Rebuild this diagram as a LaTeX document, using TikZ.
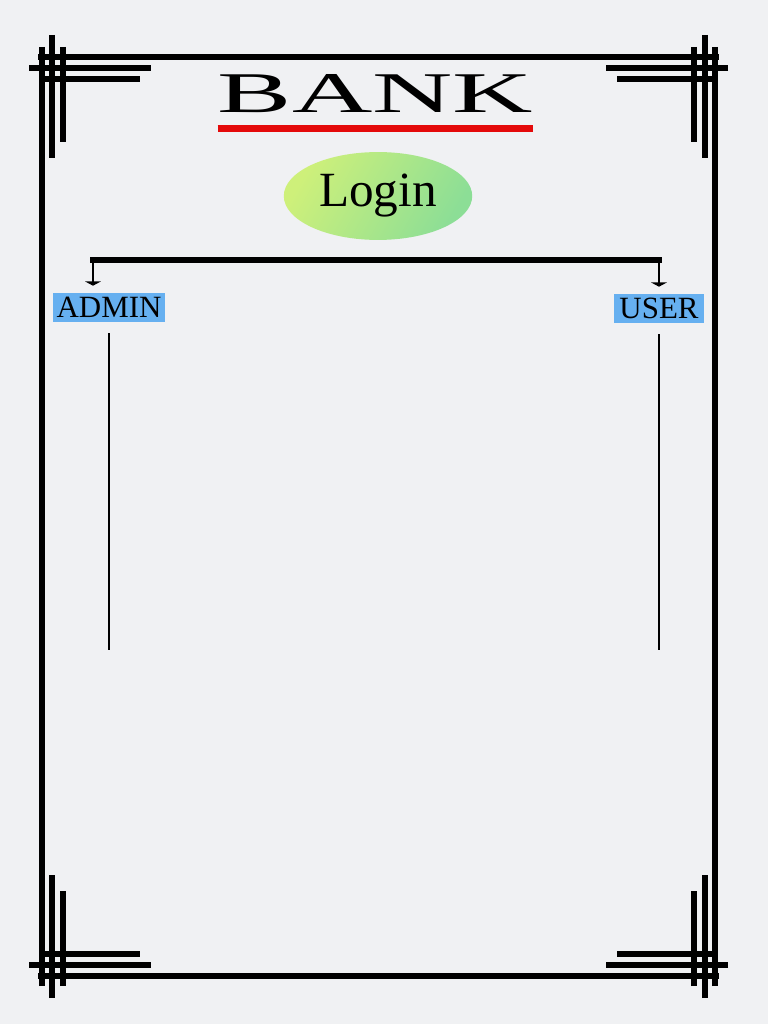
\documentclass[tikz,border=0pt]{standalone}
\usepackage{fontspec}
\setmainfont{Liberation Serif}
\usepackage{tikz}
\usetikzlibrary{arrows.meta, shapes.geometric}

\definecolor{pagegray}{RGB}{240,241,243}
\definecolor{rolebg}{RGB}{102,176,240}
\definecolor{lineRed}{RGB}{228,10,10}
\definecolor{loginY}{RGB}{206,240,122}
\definecolor{loginG}{RGB}{140,222,150}

\begin{document}
\begin{tikzpicture}[x=0.025cm, y=-0.025cm,
	rule/.style={line width=3.8pt},
	role/.style={fill=rolebg, inner xsep=2.5pt, inner ysep=0pt, minimum height=20.6pt,
		text height=14.5pt, text depth=0pt, font=\fontsize{22}{22}\selectfont},
	drop/.style={line width=1.9pt, -{Triangle[width=11pt,length=3pt]}, shorten >=5pt},
	lane/.style={line width=1.3pt}]
	\fill[pagegray] (0,0) rectangle (768,1024);

	% frame and corners
	\draw[rule] (42,57) rectangle (715,976);
	\foreach \cx/\cy/\sx/\sy in {42/57/1/1, 715/57/-1/1, 42/976/1/-1, 715/976/-1/-1}{
	\begin{scope}[shift={(\cx,\cy)}, xscale=\sx, yscale=\sy]
		\draw[rule] (-4,0) -- (30,0) (0,-10) -- (0,30);
		\draw[rule] (-13,11) -- (109,11) (10,-22) -- (10,101);
		\draw[rule] (0,22) -- (98,22) (21,-10) -- (21,85);
	\end{scope}}

	\node[inner sep=0pt] (title) at (375.5,94) {\resizebox{7.875cm}{0.95cm}{BANK}};
	\draw[lineRed, line width=5pt] ([yshift=-10.7pt]title.south west) -- ([yshift=-10.7pt]title.south east);

	\node[ellipse, minimum width=134pt, minimum height=62.5pt, inner sep=0pt,
		left color=loginY, right color=loginG, shading angle=60,
		font=\fontsize{35}{35}\selectfont] (login) at (378,196) {Login};

	\node[role] (admin) at (109,307.5) {ADMIN};
	\node[role, inner xsep=4pt] (user) at (659,308.5) {USER};

	\coordinate (barL) at (93,260);
	\coordinate (barR) at (659,260);
	\draw[rule, line cap=rect] (barL) -- (barR);
	\draw[drop] (barL) -- (barL |- admin.north);
	\draw[drop] (barR) -- (barR |- user.north);

	\coordinate (laneend) at (0,650);
	\draw[lane, shorten <=7.8pt] (admin.south) -- (admin.south |- laneend);
	\draw[lane, shorten <=7.8pt] (user.south) -- (user.south |- laneend);
\end{tikzpicture}
\end{document}
